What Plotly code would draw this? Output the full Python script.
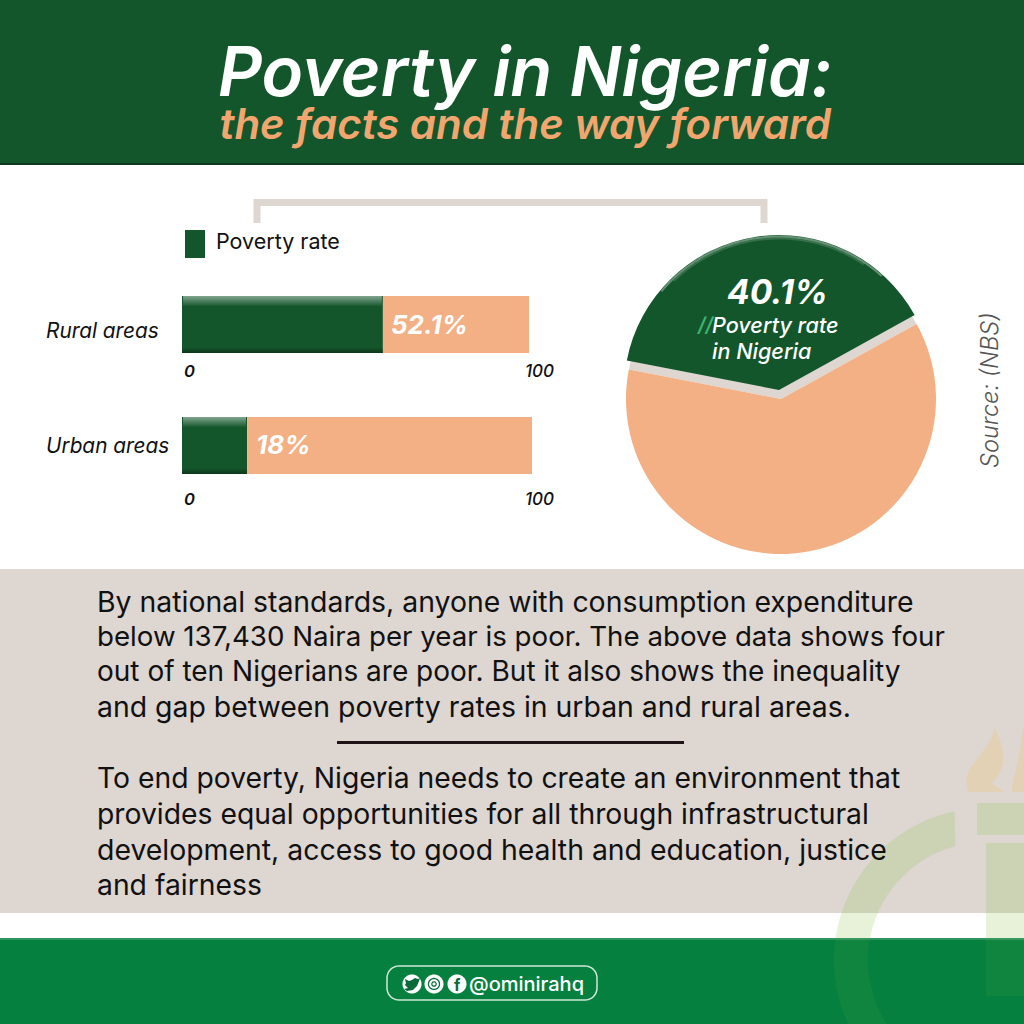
"""Poverty in Nigeria infographic, rebuilt with plotly."""
import numpy as np
import plotly.graph_objects as go

# drawn bar lengths (the printed labels differ from them)
area_names = ['Rural areas', 'Urban areas']
area_drawn = [57.9, 18.6]
area_rest = [42.1, 81.4]
area_labels = ['52.1%', '18%']
area_ticks = ['0', '100']
pie_names = ['Poverty rate', 'Other']
pie_drawn = [38.9, 61.1]

body_top = ['By national standards, anyone with consumption expenditure',
            'below 137,430 Naira per year is poor. The above data shows four',
            'out of ten Nigerians are poor. But it also shows the inequality',
            'and gap between poverty rates in urban and rural areas.']
body_bottom = ['To end poverty, Nigeria needs to create an environment that',
               'provides equal opportunities for all through infrastructural',
               'development, access to good health and education, justice',
               'and fairness']
top_sizes = [28.4, 27.7, 28, 28.4]
bottom_sizes = [28.3, 28.3, 28.4, 28.3]

DARK = '#14562c'
PEACH = '#f2b084'
GREY = '#ddd6d1'
FONT = 'Inter'

shapes = []
notes = []


def px(x):
    return x / 1024


def py(y):
    return 1 - y / 1024


def rect(x0, y0, x1, y1, color, layer='below'):
    shapes.append(dict(type='rect', xref='paper', yref='paper', x0=px(x0), x1=px(x1),
                       y0=py(y0), y1=py(y1), fillcolor=color, line_width=0, layer=layer))


def poly(points, fill=None, line=None, width=0, layer='below'):
    d = 'M ' + ' L '.join(f'{px(x):.5f} {py(y):.5f}' for x, y in points)
    if fill:
        d += ' Z'
    shapes.append(dict(type='path', xref='paper', yref='paper', path=d, fillcolor=fill,
                       line=dict(color=line, width=width), layer=layer))


def arc(cx, cy, r, a0, a1, n=60):
    """ 角度は真上から時計回り """
    t = np.radians(np.linspace(a0, a1, n))
    return list(zip(cx + r * np.sin(t), cy - r * np.cos(t)))


def text(x, y, s, size, color='#111111', anchor='left', italic=False, weight=400, angle=0):
    notes.append(dict(xref='paper', yref='paper', x=px(x), y=py(y), text=s, showarrow=False,
                      xanchor=anchor, yanchor='middle', textangle=angle,
                      font=dict(family=FONT, size=size, color=color, weight=weight,
                                style='italic' if italic else 'normal')))


def logo(tint, flame_tint):
    """ 透かしのロゴ """
    poly(arc(986, 960, 152, -12, -180) + arc(986, 960, 118, -180, -15), fill=tint)
    rect(977, 803, 1024, 835, tint)
    rect(986, 843, 1024, 996, tint)
    flame = 'M {} {} C {} {} {} {} {} {} C {} {} {} {} {} {} C {} {} {} {} {} {} Z'
    f1 = [(968, 792), (960, 765), (985, 760), (995, 728), (1008, 755), (1005, 770), (992, 783),
          (998, 788), (1002, 790), (1004, 792)]
    f2 = [(1012, 792), (1012, 775), (1020, 765), (1024, 722), (1024, 740), (1024, 760),
          (1024, 792), (1024, 792), (1020, 792), (1012, 792)]
    for f in [f1, f2]:
        shapes.append(dict(type='path', xref='paper', yref='paper', layer='below', line_width=0,
                           fillcolor=flame_tint,
                           path=flame.format(*[round(v, 5) for p in f
                                               for v in (px(p[0]), py(p[1]))])))


# 背景の帯
rect(0, 0, 1024, 164, DARK)
rect(0, 163, 1024, 165, '#0d3a1e')
rect(0, 569, 1024, 913, GREY)
logo('rgba(150,200,90,0.17)', 'rgba(250,190,80,0.22)')
rect(0, 938, 1024, 1024, '#06803f')
rect(0, 938, 1024, 940, '#2f9560')
logo('rgba(150,200,90,0.07)', 'rgba(0,0,0,0)')

# 棒と円をつなぐ括弧
poly([(257, 223), (257, 202.5), (764, 202.5), (764, 223)], line=GREY, width=7)

# 凡例
rect(185, 230, 205, 258, DARK)
text(214, 241, 'Poverty rate', 21.5, weight=400)

# 仕切り線
rect(337, 741, 684, 744, '#1e1418')

# 見出し
text(525, 89.5,
     '<span style="font-size:68.4px;color:white">Poverty in Nigeria:</span><br>'
     '<span style="font-size:42px">the facts and the way forward</span>',
     33, color='#f2a66f', anchor='center', italic=True, weight=600)

# 本文
for i, line in enumerate(body_top):
    text(95, 601 + i * 35.2, line, top_sizes[i])
for i, line in enumerate(body_bottom):
    text(95, 778 + i * 35.7, line, bottom_sizes[i])

# 棒グラフ
fig = go.Figure()
bar_boxes = [(182, 529, 296, 353), (182, 532, 417, 474)]
label_x = [389, 254]
label_y = [324, 444]
name_y = [330, 445]
tick_y = [371, 499]
for i, (x0, x1, y0, y1) in enumerate(bar_boxes):
    sfx = '' if i == 0 else '2'
    fig.add_trace(go.Bar(x=[area_drawn[i]], y=[0.5], width=1, orientation='h', xaxis='x' + sfx,
                         yaxis='y' + sfx, marker=dict(color=DARK, line_width=0), name=area_names[i]))
    fig.add_trace(go.Bar(x=[area_rest[i]], y=[0.5], width=1, orientation='h', xaxis='x' + sfx,
                         yaxis='y' + sfx, marker=dict(color=PEACH, line_width=0),
                         base=[area_drawn[i]], name='Rest'))
    fig.update_layout({
        'xaxis' + sfx: dict(domain=[px(x0), px(x1)], range=[0, 100], visible=False),
        'yaxis' + sfx: dict(domain=[py(y1), py(y0)], range=[0, 1], visible=False),
    })
    # 棒の上端のつやと下端の影
    for k in range(10):
        shapes.append(dict(type='rect', xref='x' + sfx, yref='y' + sfx, x0=0.3,
                           x1=area_drawn[i] - 0.3, y0=1 - (k + 1) / 57, y1=1 - k / 57, line_width=0,
                           fillcolor=f'rgba(255,255,255,{0.45 * (1 - k / 10):.3f})', layer='above'))
    for k in range(5):
        shapes.append(dict(type='rect', xref='x' + sfx, yref='y' + sfx, x0=0, x1=area_drawn[i],
                           y0=k / 57, y1=(k + 1) / 57, line_width=0,
                           fillcolor=f'rgba(0,0,0,{0.35 * (1 - k / 5):.3f})', layer='above'))
    text(label_x[i], label_y[i], area_labels[i], 26, color='white', italic=True, weight=700)
    text(44, name_y[i], area_names[i], 20.8, italic=True, weight=400)
    text(182, tick_y[i], area_ticks[0], 16.5, italic=True, weight=600)
    text(556, tick_y[i], area_ticks[1], 17, anchor='right', italic=True, weight=500)

# 円グラフ: 灰色の扇の上に濃緑の扇を少しずらして重ねる
fig.add_trace(go.Pie(labels=pie_names, values=pie_drawn, sort=False, direction='clockwise',
                     rotation=281, textinfo='none', showlegend=False,
                     marker=dict(colors=[GREY, PEACH], line_width=0),
                     domain=dict(x=[px(626), px(936)], y=[py(554), py(244)])))
fig.add_trace(go.Pie(labels=pie_names, values=pie_drawn, sort=False, direction='clockwise',
                     rotation=281, textinfo='none', showlegend=False,
                     marker=dict(colors=[DARK, 'rgba(0,0,0,0)'], line_width=0),
                     domain=dict(x=[px(624), px(934)], y=[py(545), py(235)])))
poly(arc(779, 390, 153.5, -50, 42), line='rgba(255,255,255,0.35)', width=2, layer='above')
poly(arc(779, 390, 151.5, -44, 34), line='rgba(255,255,255,0.15)', width=2, layer='above')

text(777, 292, '40.1%', 33.5, color='white', anchor='center', italic=True, weight=700)
text(695, 325, '//', 20, color='#3db56f', italic=True, weight=600)
text(710, 325, 'Poverty rate', 21.6, color='white', italic=True, weight=500)
text(710, 351, 'in Nigeria', 21.6, color='white', italic=True, weight=500)
text(989, 391, 'Source: (NBS)', 23.6, color='#555555', anchor='center', italic=True, weight=300,
     angle=-90)

# フッター
x0, x1, y0, y1, r = 387, 597, 966, 1000, 12
pill = (arc(x1 - r, y0 + r, r, 0, 90, 12) + arc(x1 - r, y1 - r, r, 90, 180, 12)
        + arc(x0 + r, y1 - r, r, 180, 270, 12) + arc(x0 + r, y0 + r, r, 270, 360, 12))
poly(pill + pill[:1], line='#cfe8d8', width=1.5, layer='above')
for cx in [412, 434, 457]:
    poly(arc(cx, 984, 9.5, 0, 360, 40), fill='white', layer='above')
# Twitterの鳥
poly([(405, 979), (409, 981), (412, 980), (415, 978), (418, 979), (420, 978), (419, 981),
      (417, 986), (413, 990), (407, 991), (404, 989), (408, 988), (405, 985), (406, 983)],
     fill='#0b6a38', layer='above')
poly(arc(434, 984, 5.5, 0, 360, 30), line='#0b6a38', width=1.3, layer='above')
poly(arc(434, 984, 2.2, 0, 360, 20), line='#0b6a38', width=1.2, layer='above')
text(457, 985, 'f', 16, color='#0b6a38', anchor='center', weight=700)
text(467, 984, '@ominirahq', 20, color='white', weight=500)

fig.update_layout(width=1024, height=1024, margin=dict(l=0, r=0, t=0, b=0), showlegend=False,
                  paper_bgcolor='white', plot_bgcolor='rgba(0,0,0,0)', barmode='overlay',
                  shapes=shapes, annotations=notes, font_family=FONT)
fig.write_html('out.html', config=dict(displayModeBar=False),
               post_script="document.body.style.margin='0';")
